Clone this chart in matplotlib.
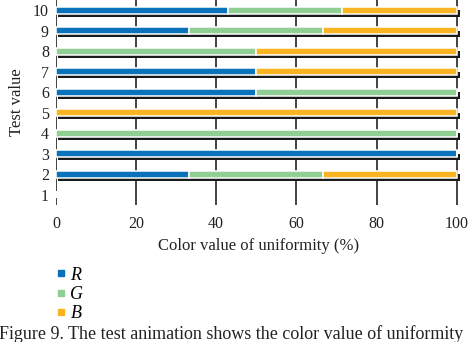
import matplotlib.pyplot as plt
from matplotlib.lines import Line2D

# values (percent of R, G, B per test)
tests = [1, 2, 3, 4, 5, 6, 7, 8, 9, 10]
r_vals = [0, 33.3, 100, 0, 0, 50, 50, 0, 33.3, 42.9]
g_vals = [0, 33.3, 0, 100, 0, 50, 0, 50, 33.3, 28.6]
b_vals = [0, 33.4, 0, 0, 100, 0, 50, 50, 33.4, 28.5]
x_ticks = [0, 20, 40, 60, 80, 100]

col_r = '#0A72BA'
col_g = '#8FCF94'
col_b = '#FBB421'

plt.rcParams['font.family'] = 'Liberation Serif'

fig = plt.figure(figsize=(4.74, 3.42), dpi=100)
ax = fig.add_axes([0.118, 0.4006, 0.854, 0.5994])

bar_h = 0.32
# black "depth" bar behind each filled row
for t, r, g, b in zip(tests, r_vals, g_vals, b_vals):
    total = r + g + b
    if total > 0:
        ax.barh(t - 0.15, total + 0.2, left=0.6, height=bar_h,
                color='#1a1a1a', zorder=2)

ax.barh(tests, r_vals, height=bar_h, color=col_r, edgecolor='white',
        linewidth=1.1, zorder=3)
left_g = r_vals
ax.barh(tests, g_vals, left=left_g, height=bar_h, color=col_g,
        edgecolor='white', linewidth=1.1, zorder=3)
left_b = [r + g for r, g in zip(r_vals, g_vals)]
ax.barh(tests, b_vals, left=left_b, height=bar_h, color=col_b,
        edgecolor='white', linewidth=1.1, zorder=3)

ax.set_xlim(0, 101)
ax.set_ylim(0.5, 10.5)
ax.set_xticks(x_ticks)
ax.set_yticks(tests)
ax.tick_params(axis='both', length=0, labelsize=11.5, colors='#222222')
ax.tick_params(axis='x', pad=8)
ax.tick_params(axis='y', pad=5)

# vertical black grid lines
for xv in x_ticks:
    ax.axvline(xv, color='#222222', linewidth=1.2, zorder=1)
for s in ax.spines.values():
    s.set_visible(False)

ax.set_xlabel('Color value of uniformity (%)', fontsize=12, color='#222222',
              labelpad=4)
ax.set_ylabel('Test value', fontsize=12, color='#222222', labelpad=6)

handles = [Line2D([], [], marker='s', linestyle='none', markersize=4.5,
                  color=c) for c in (col_r, col_g, col_b)]
fig.legend(handles, ['R', 'G', 'B'], loc='upper left',
           bbox_to_anchor=(0.099, 0.241), frameon=False,
           prop={'style': 'italic', 'size': 13}, handlelength=0.8,
           handletextpad=0.1, labelspacing=0.12, borderaxespad=0.0)

fig.text(-0.002, 0.01,
         'Figure 9. The test animation shows the color value of uniformity',
         fontsize=13, color='#222222', ha='left', va='baseline')

fig.savefig('out.png', dpi=100)
